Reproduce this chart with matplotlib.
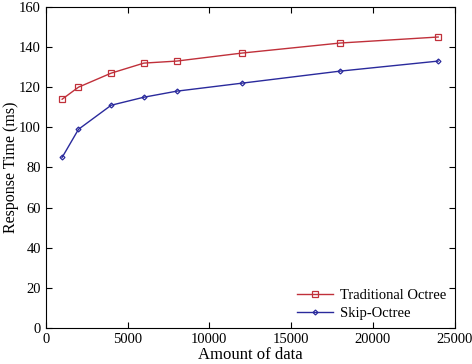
import matplotlib.pyplot as plt

plt.rcParams["font.family"] = ["Liberation Serif", "DejaVu Serif"]

data_amount = [1000, 2000, 4000, 6000, 8000, 12000, 18000, 24000]
traditional_octree = [114, 120, 127, 132, 133, 137, 142, 145]
skip_octree = [85, 99, 111, 115, 118, 122, 128, 133]

fig = plt.figure(figsize=(4.72, 3.64), dpi=100)
ax = fig.add_axes([0.097, 0.099, 0.866, 0.882])

ax.plot(data_amount, traditional_octree, color="#c0303a", linewidth=1.0,
        marker="s", markersize=4, markerfacecolor="none", markeredgewidth=0.9,
        label="Traditional Octree")
ax.plot(data_amount, skip_octree, color="#2a2a9c", linewidth=1.0,
        marker="D", markersize=2.5, markerfacecolor="none", markeredgewidth=0.9,
        label="Skip-Octree")

ax.set_xlim(0, 25000)
ax.set_ylim(0, 160)
ax.set_xticks(range(0, 25001, 5000))
ax.set_yticks(range(0, 161, 20))
ax.tick_params(direction="in", top=True, right=True, labelsize=10.5, length=4)
ax.set_xlabel("Amount of data", fontsize=12, labelpad=1)
ax.set_ylabel("Response Time (ms)", fontsize=11.5, labelpad=0)

ax.legend(loc="lower right", fontsize=10.5, frameon=False, handlelength=2.5,
          borderaxespad=0.15, labelspacing=0.3, handletextpad=0.5)

fig.savefig("out.png", dpi=100)
